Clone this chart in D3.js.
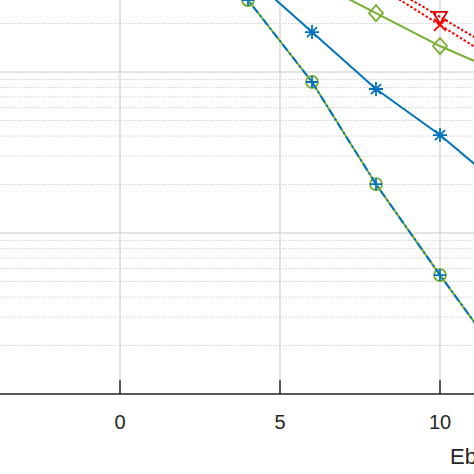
<!DOCTYPE html>
<html><head><meta charset="utf-8">
<script src="https://cdn.jsdelivr.net/npm/d3@7"></script>
<style>body{margin:0;background:#fff}</style></head>
<body><svg id="c" width="474" height="474"></svg>
<script>
const xTicks=[-5,0,5,10];
const xs=[2,4,6,8,10,12];
const blueStar=[null,0.040,0.0177,0.00784,0.00406,0.00188];
const greenCircle=[0.09,0.028,0.00867,0.00201,0.000548,0.000156];
const bluePlus=[0.09,0.028,0.00867,0.00201,0.000548,0.000156];
const greenDiamond=[null,null,0.0372,0.0232,0.0145,0.00972];
const redTri=[null,null,null,0.0379,0.0220,0.0128];
const redX=[null,null,null,0.0347,0.0196,0.0110];
const xLabel="Eb/N0 (dB)";

const svg=d3.select("#c");
const x=d3.scaleLinear().domain([0,10]).range([120,440]);
const y=d3.scaleLog().domain([1e-4,1e-2]).range([394,72]);
svg.append("defs").append("clipPath").attr("id","cl").append("rect").attr("x",0).attr("y",0).attr("width",474).attr("height",394);
const g=svg.append("g").attr("clip-path","url(#cl)");
const minor=[],major=[];
for(let e=-5;e<=0;e++){major.push(Math.pow(10,e));for(let m=2;m<=9;m++)minor.push(m*Math.pow(10,e));}
g.selectAll(".mn").data(minor).join("line").attr("x1",0).attr("x2",474).attr("y1",d=>y(d)).attr("y2",d=>y(d)).attr("stroke","#cfcfcf").attr("stroke-dasharray","1.5,1.5").attr("stroke-width",1);
g.selectAll(".mj").data(major).join("line").attr("x1",0).attr("x2",474).attr("y1",d=>y(d)).attr("y2",d=>y(d)).attr("stroke","#dadada").attr("stroke-width",1.5);
g.selectAll(".vg").data(xTicks).join("line").attr("x1",d=>x(d)).attr("x2",d=>x(d)).attr("y1",0).attr("y2",394).attr("stroke","#dadada").attr("stroke-width",1.5);

function series(vals,color,dash,marker){
  const pts=xs.map((v,i)=>[v,vals[i]]).filter(p=>p[1]!=null);
  g.append("path").datum(pts).attr("fill","none").attr("stroke",color).attr("stroke-width",2)
   .attr("stroke-dasharray",dash).attr("d",d3.line().x(p=>x(p[0])).y(p=>y(p[1])));
  const mg=g.selectAll(null).data(pts).join("g").attr("transform",p=>`translate(${x(p[0])},${y(p[1])})`)
   .attr("fill","none").attr("stroke",color).attr("stroke-width",1.8);
  if(marker==="circle")mg.append("circle").attr("r",6);
  if(marker==="diamond")mg.append("path").attr("d","M0,-8L7,0L0,8L-7,0Z");
  if(marker==="tri")mg.append("path").attr("d","M-7,-5L7,-5L0,7Z");
  if(marker==="plus")mg.append("path").attr("d","M-6,0H6M0,-6V6");
  if(marker==="x")mg.append("path").attr("d","M-6,-6L6,6M-6,6L6,-6");
  if(marker==="star")mg.append("path").attr("d","M-7,0H7M0,-7V7M-5,-5L5,5M-5,5L5,-5");
}
series(redX,"#ff0000","2.5,2","x");
series(redTri,"#e00000","2.5,2","tri");
series(greenDiamond,"#77ac30",null,"diamond");
series(blueStar,"#0072bd",null,"star");
series(greenCircle,"#77ac30",null,"circle");
series(bluePlus,"#0072bd","8,3,2,3","plus");
svg.append("line").attr("x1",0).attr("x2",474).attr("y1",394).attr("y2",394).attr("stroke","#262626").attr("stroke-width",1.5);
svg.selectAll(".tk").data(xTicks).join("line").attr("x1",d=>x(d)).attr("x2",d=>x(d)).attr("y1",394).attr("y2",380).attr("stroke","#262626").attr("stroke-width",1.5);
svg.selectAll(".tl").data(xTicks).join("text").attr("x",d=>x(d)).attr("y",429).attr("text-anchor","middle")
 .attr("font-family","Liberation Sans, Arial, sans-serif").attr("font-size",20).attr("fill","#262626").text(d=>d);
svg.append("text").attr("x",450).attr("y",464).attr("font-family","Liberation Sans, Arial, sans-serif").attr("font-size",22).attr("fill","#262626").text(xLabel);
</script></body></html>
